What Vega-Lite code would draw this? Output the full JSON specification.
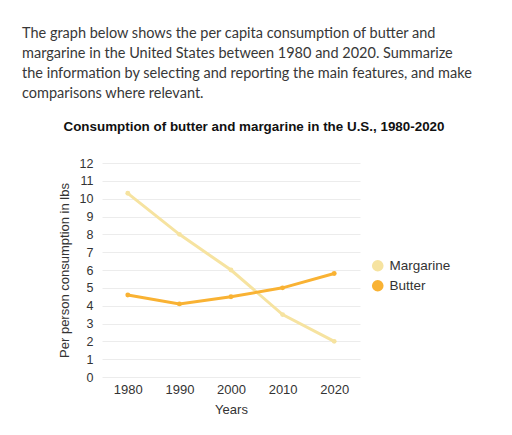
{
  "$schema": "https://vega.github.io/schema/vega-lite/v6.json",
  "background": "white",
  "padding": {"left": 22, "top": 26, "right": 10, "bottom": 5},
  "title": {
    "text": [
      "The graph below shows the per capita consumption of butter and",
      "margarine in the United States between 1980 and 2020. Summarize",
      "the information by selecting and reporting the main features, and make",
      "comparisons where relevant."
    ],
    "anchor": "start",
    "frame": "group",
    "font": "Lato",
    "fontSize": 14.5,
    "fontWeight": "normal",
    "color": "#383838",
    "lineHeight": 20,
    "baseline": "top",
    "dx": -80,
    "offset": 18
  },
  "config": {
    "view": {"stroke": null},
    "font": "Liberation Sans"
  },
  "vconcat": [
    {
      "width": 258,
      "height": 214,
      "title": {
        "text": "Consumption of butter and margarine in the U.S., 1980-2020",
        "font": "Liberation Sans",
        "fontSize": 13.4,
        "fontWeight": "bold",
        "color": "#111111",
        "anchor": "middle",
        "frame": "group",
        "dx": 23,
        "offset": 24
      },
      "data": {
        "values": [
          {"Year": "1980", "Type": "Margarine", "Value": 10.3},
          {"Year": "1990", "Type": "Margarine", "Value": 8.0},
          {"Year": "2000", "Type": "Margarine", "Value": 6.0},
          {"Year": "2010", "Type": "Margarine", "Value": 3.5},
          {"Year": "2020", "Type": "Margarine", "Value": 2.0},
          {"Year": "1980", "Type": "Butter", "Value": 4.6},
          {"Year": "1990", "Type": "Butter", "Value": 4.1},
          {"Year": "2000", "Type": "Butter", "Value": 4.5},
          {"Year": "2010", "Type": "Butter", "Value": 5.0},
          {"Year": "2020", "Type": "Butter", "Value": 5.8}
        ]
      },
      "encoding": {
        "x": {
          "field": "Year",
          "type": "ordinal",
          "scale": {"type": "point", "padding": 0.5},
          "axis": {
            "title": "Years",
            "labelAngle": 0,
            "labelFontSize": 13,
            "labelColor": "#333333",
            "titleFontSize": 13,
            "titleFontWeight": "normal",
            "titleColor": "#333333",
            "labelPadding": 6,
            "titlePadding": 7,
            "ticks": false,
            "domain": false,
            "grid": false
          }
        },
        "y": {
          "field": "Value",
          "type": "quantitative",
          "scale": {"domain": [0, 12]},
          "axis": {
            "title": "Per person consumption in lbs",
            "values": [0,1,2,3,4,5,6,7,8,9,10,11,12],
            "labelFontSize": 12.5,
            "labelColor": "#333333",
            "titleFontSize": 13,
            "titleFontWeight": "normal",
            "titleColor": "#333333",
            "labelPadding": 9,
            "titlePadding": 8,
            "ticks": false,
            "domain": false,
            "grid": true,
            "gridColor": "#ececec",
            "gridWidth": 1
          }
        },
        "color": {
          "field": "Type",
          "type": "nominal",
          "scale": {"domain": ["Margarine", "Butter"], "range": ["#f6e3a0", "#f9b233"]},
          "legend": {
            "title": null,
            "orient": "none",
            "legendX": 269,
            "legendY": 96,
            "symbolType": "circle",
            "symbolSize": 135,
            "symbolStrokeWidth": 0,
            "labelFontSize": 13.5,
            "labelColor": "#333333",
            "labelOffset": 5,
            "rowPadding": 5,
            "padding": 0
          }
        }
      },
      "layer": [
        {"mark": {"type": "line", "strokeWidth": 3}},
        {"mark": {"type": "point", "filled": true, "size": 24, "opacity": 1}}
      ]
    }
  ]
}
